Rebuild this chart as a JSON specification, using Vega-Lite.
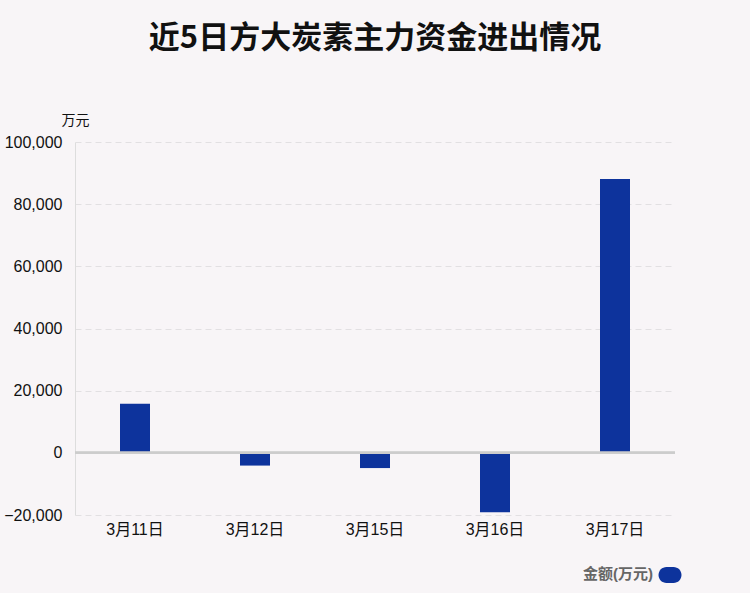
{
  "$schema": "https://vega.github.io/schema/vega-lite/v6.json",
  "width": 600,
  "height": 373,
  "autosize": {"type": "none"},
  "padding": {"left": 75, "top": 142, "right": 75, "bottom": 78},
  "background": "#f8f5f7",
  "config": {
    "font": "Liberation Sans, Noto Sans CJK SC",
    "view": {"stroke": null}
  },
  "title": {
    "text": "近5日方大炭素主力资金进出情况",
    "fontSize": 31,
    "fontWeight": "bold",
    "color": "#111111",
    "anchor": "middle",
    "offset": 58,
    "font": "Noto Sans CJK SC"
  },
  "data": {
    "values": [
      {"date": "3月11日", "value": 15800, "series": "金额(万元)"},
      {"date": "3月12日", "value": -4100, "series": "金额(万元)"},
      {"date": "3月15日", "value": -4900, "series": "金额(万元)"},
      {"date": "3月16日", "value": -19100, "series": "金额(万元)"},
      {"date": "3月17日", "value": 88100, "series": "金额(万元)"}
    ]
  },
  "layer": [
    {
      "mark": {"type": "bar"},
      "encoding": {
        "x": {
          "field": "date",
          "type": "nominal",
          "sort": null,
          "scale": {"paddingInner": 0.75, "paddingOuter": 0.375},
          "axis": {
            "title": null,
            "labelAngle": 0,
            "labelFontSize": 16,
            "labelColor": "#111111",
            "labelPadding": 6,
            "domain": false,
            "ticks": false
          }
        },
        "y": {
          "field": "value",
          "type": "quantitative",
          "scale": {"domain": [-20000, 100000], "nice": false},
          "axis": {
            "values": [-20000, 0, 20000, 40000, 60000, 80000, 100000],
            "format": ",d",
            "title": "万元",
            "titleAngle": 0,
            "titleAlign": "center",
            "titleBaseline": "middle",
            "titleX": 0,
            "titleY": -22,
            "titleFontSize": 14,
            "titleFontWeight": "normal",
            "titleColor": "#111111",
            "labelFontSize": 16,
            "labelColor": "#111111",
            "labelPadding": 13,
            "ticks": false,
            "domain": true,
            "domainColor": "#dddddd",
            "grid": true,
            "gridColor": "#e2e0e2",
            "gridDash": [6, 4]
          }
        },
        "color": {
          "field": "series",
          "type": "nominal",
          "scale": {"range": ["#0d339c"]},
          "legend": {
            "orient": "none",
            "legendX": 508,
            "legendY": 423,
            "title": "金额(万元)",
            "titleOrient": "left",
            "titleFontSize": 15,
            "titleFontWeight": "bold",
            "titleColor": "#666666",
            "titleBaseline": "middle",
            "titlePadding": 7,
            "labelExpr": "''",
            "labelFontSize": 1,
            "labelOffset": 0,
            "symbolType": "M-0.35,-0.8 H0.35 A0.8,0.8 0 0 1 0.35,0.8 H-0.35 A0.8,0.8 0 0 1 -0.35,-0.8 Z",
            "symbolSize": 400,
            "symbolStrokeWidth": 0
          }
        }
      }
    },
    {
      "mark": {"type": "rule", "color": "#cccccc", "strokeWidth": 2},
      "encoding": {"y": {"datum": 0}}
    }
  ]
}
